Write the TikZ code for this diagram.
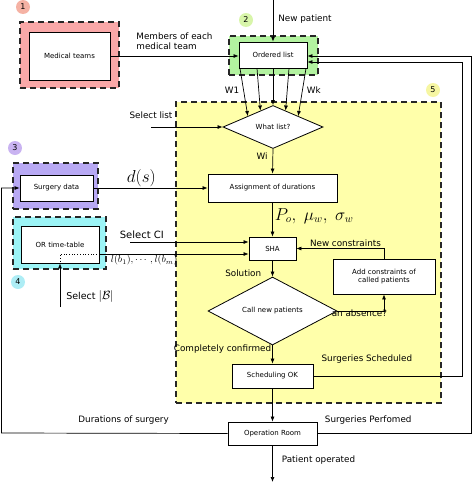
\documentclass[tikz,border=0pt]{standalone}
\usepackage{amsmath,amssymb}
\usepackage{fontspec}
\setmainfont{DejaVu Sans}
\usepackage{xcolor}
\usepackage{tikz}
\usetikzlibrary{arrows.meta,positioning,calc,shapes.geometric}
\definecolor{teampink}{HTML}{F9A8A8}
\definecolor{tagpink}{HTML}{F5B2A4}
\definecolor{listgreen}{HTML}{B3F3A0}
\definecolor{taggreen}{HTML}{D8F5AA}
\definecolor{datapurple}{HTML}{B8A9F4}
\definecolor{tagpurple}{HTML}{C9B3F1}
\definecolor{orcyan}{HTML}{9CF4F6}
\definecolor{tagcyan}{HTML}{AEEDF5}
\definecolor{schedyellow}{HTML}{FFFFAA}
\definecolor{tagyellow}{HTML}{F6F6A2}

\begin{document}
\begin{tikzpicture}[
  x=1pt,y=-1pt,
  box/.style={draw,line width=0.8pt,fill=white,align=center,inner sep=1pt,font=\fontsize{7}{8.5}\selectfont},
  decide/.style={diamond,draw,line width=0.8pt,fill=white,inner sep=1pt,font=\fontsize{7}{8.5}\selectfont},
  zone/.style={draw=black!85,line width=1.1pt,dash pattern=on 6pt off 4pt},
  tag/.style={circle,minimum size=14pt,inner sep=0pt,font=\fontsize{8}{9}\selectfont},
  arrow/.style={-{Latex[length=5pt,width=4pt]},line width=0.7pt},
  note/.style={font=\fontsize{8.8}{10.5}\selectfont,align=left,inner sep=1pt},
  formula/.style={font=\fontsize{16}{18}\selectfont,inner sep=1pt}
]
\useasboundingbox (0,0) rectangle (474,482);
% coloured zones
\node[zone,fill=schedyellow,minimum width=265pt,minimum height=301pt] (schedzone) at (308.5,252.5) {};
\node[zone,fill=teampink,minimum width=99pt,minimum height=66pt] (teamzone) at (69.5,55) {};
\node[zone,fill=listgreen,minimum width=89pt,minimum height=39pt] (listzone) at (273.5,55.5) {};
\node[zone,fill=datapurple,minimum width=85pt,minimum height=46pt] (datazone) at (55.5,186) {};
\node[zone,fill=orcyan,minimum width=93pt,minimum height=52pt] (orzone) at (59.5,243) {};
\node[tag,fill=tagpink] (t1) at (23,7) {1};
\node[tag,fill=taggreen] (t2) at (246,20) {2};
\node[tag,fill=tagpurple] (t3) at (15,148) {3};
\node[tag,fill=tagcyan] (t4) at (18,282) {4};
\node[tag,fill=tagyellow] (t5) at (433,90) {5};
% blocks
\node[box,minimum width=81pt,minimum height=48pt] (teams) at (69.5,56) {Medical teams};
\node[box,minimum width=68pt,minimum height=26pt] (olist) at (273,55) {Ordered list};
\node[box,minimum width=73pt,minimum height=26pt] (sdata) at (56.5,188) {Surgery data};
\node[box,minimum width=78pt,minimum height=37pt] (ortt) at (60,244.5) {OR time-table};
\node[decide,aspect=2.3,minimum width=100pt,minimum height=43pt] (whatlist) at (273,127) {What list?};
\node[box,minimum width=129pt,minimum height=28pt] (assign) at (272.5,188) {Assignment of durations};
\node[box,minimum width=47pt,minimum height=23pt] (sha) at (272.5,248.5) {SHA};
\node[decide,aspect=1.9,minimum width=129pt,minimum height=68pt] (callnew) at (272.5,311) {Call new patients};
\node[box,minimum width=102pt,minimum height=35pt] (addc) at (384,276.5) {Add constraints of\\called patients};
\node[box,minimum width=81pt,minimum height=24pt] (schedok) at (272.5,376) {Scheduling OK};
\node[box,minimum width=89pt,minimum height=23pt] (oproom) at (272.5,433.5) {Operation Room};
% free ends
\coordinate (newp) at (273,0);
\coordinate (sellist) at (151,127);
\coordinate (selci) at (130,242);
\coordinate (selb) at (60,307);
\coordinate (lbout) at ([yshift=-9.5pt]ortt.east);
\coordinate (lcorner) at (1.5,433);
\coordinate (rinner) at (462,62);
\coordinate (router) at (471.5,56);
\coordinate (outp) at (272.5,482);
% connectors
\draw[arrow] (teams.east) -- node[note,above=5pt]{Members of each\\medical team} (teams.east -| olist.west);
\draw[arrow] (newp) -- node[note,right=4pt,pos=0.45]{New patient} (olist.north);
\draw[arrow] ([xshift=-33pt]olist.south) -- node[note,left=3pt,pos=0.45]{W1} ($(whatlist.north)!0.5!(whatlist.west)$);
\draw[arrow] ([xshift=-16pt]olist.south) -- ($(whatlist.north)!0.25!(whatlist.west)$);
\draw[arrow] (olist.south) -- (whatlist.north);
\draw[arrow] ([xshift=16pt]olist.south) -- ($(whatlist.north)!0.25!(whatlist.east)$);
\draw[arrow] ([xshift=33pt]olist.south) -- node[note,right=3pt,pos=0.45]{Wk} ($(whatlist.north)!0.5!(whatlist.east)$);
\draw[arrow] (sellist) -- node[note,above=7pt,pos=0]{Select list} (whatlist.west);
\draw[arrow] (whatlist.south) -- node[note,left=4pt,pos=0.3]{Wi} (assign.north);
\draw[arrow] (sdata.east) -- node[formula,above=0pt,pos=0.42]{$d(s)$} (assign.west);
\draw[arrow] (assign.south) -- node[formula,right=1pt,pos=0.4]{$P_o,\;\mu_w,\;\sigma_w$} (sha.north);
\draw[arrow] (selci) -- node[note,above=2pt,pos=0.1,font=\fontsize{10}{12}\selectfont]{Select CI} (sha.west |- selci);
\draw[arrow] (lbout) -- node[below=0pt,pos=0.3,inner sep=1pt]{$l(b_1),\cdots,l(b_m)$} (sha.west |- lbout);
\draw[dotted,line width=0.7pt] (lbout) -| (ortt.south);
\draw[arrow] (selb) -- node[note,right=5pt,pos=0.25,font=\fontsize{9.5}{11}\selectfont]{Select {\fontsize{13}{15}\selectfont$|\mathcal{B}|$}} (ortt.south);
\draw[arrow] (sha.south) -- node[note,left=10pt,pos=0.8]{Solution} (callnew.north);
\draw[arrow] (callnew.east) -| node[note,anchor=north west,pos=0,xshift=-7pt,yshift=3pt]{an absence?} (addc.south);
\draw[arrow] (addc.north) |- node[note,above=1pt,pos=0.72]{New constraints} (sha.east);
\draw[arrow] (callnew.south) -- node[note,left,pos=0.2]{Completely confirmed} (schedok.north);
\draw[arrow] (schedok.east) -| node[note,above=11pt,pos=0.18]{Surgeries Scheduled} (rinner) -- (olist.east |- rinner);
\draw[arrow] (schedok.south) -- (oproom.north);
\draw[arrow] (oproom.west) -- node[note,above=8pt,pos=0.46]{Durations of surgery} (lcorner) |- (sdata.west);
\draw[arrow] (oproom.east) -- node[note,above=8pt,pos=0.33]{Surgeries Perfomed} (oproom.east -| router) -- (router) -- (olist.east |- router);
\draw[arrow] (oproom.south) -- node[note,right=8pt,pos=0.4]{Patient operated} (outp);
\end{tikzpicture}
\end{document}
